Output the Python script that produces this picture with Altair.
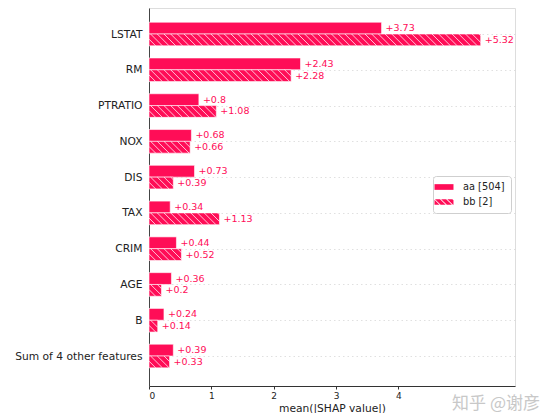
import altair as alt
import pandas as pd

features = ["LSTAT", "RM", "PTRATIO", "NOX", "DIS", "TAX", "CRIM", "AGE", "B",
            "Sum of 4 other features"]
aa_values = [3.73, 2.43, 0.8, 0.68, 0.73, 0.34, 0.44, 0.36, 0.24, 0.39]
bb_values = [5.32, 2.28, 1.08, 0.66, 0.39, 1.13, 0.52, 0.2, 0.14, 0.33]
group_names = ["aa", "bb"]
group_counts = [504, 2]
x_ticks = [0, 1, 2, 3, 4]

RED = "#ff0d57"
FONT = "DejaVu Sans"
X_MAX = 5.87
Y_DOMAIN = [-0.727, 9.838]
PLOT_W, PLOT_H = 366, 378
HALF = 0.33  # bar thickness in row units

labels = [f"{g} [{n}]" for g, n in zip(group_names, group_counts)]

rows = []
for i, f in enumerate(features):
    for gi, vals in enumerate([aa_values, bb_values]):
        v = vals[i]
        top = i - HALF if gi == 0 else i
        rows.append(dict(feature=f, idx=i, group=labels[gi], value=v,
                         top=top, bottom=top + HALF, mid=top + HALF / 2,
                         label="+" + f"{v:g}"))
bars = pd.DataFrame(rows)

# hatch lines on the second group's bars (style: 45 deg, ~6.7px apart)
px_x = PLOT_W / X_MAX
px_y = PLOT_H / (Y_DOMAIN[1] - Y_DOMAIN[0])
dx = HALF * px_y / px_x
step = 6.7 / px_x
hatch = []
for i, v in enumerate(bb_values):
    c = -dx
    while c < v:
        t0 = max(0.0, (0 - c) / dx)
        t1 = min(1.0, (v - c) / dx)
        if t1 > t0:
            hatch.append(dict(x1=c + t0 * dx, x2=c + t1 * dx,
                              y1=i + t0 * HALF, y2=i + t1 * HALF))
        c += step
hatch = pd.DataFrame(hatch)

# legend symbols: plain rectangle and a striped rectangle
def clip_x(poly, lo, hi):
    def clip(pts, keep, inter):
        out = []
        for k in range(len(pts)):
            p, q = pts[k], pts[(k + 1) % len(pts)]
            if keep(p):
                out.append(p)
            if keep(p) != keep(q):
                out.append(inter(p, q))
        return out
    def ix(xv):
        return lambda p, q: (xv, p[1] + (q[1] - p[1]) * (xv - p[0]) / (q[0] - p[0]))
    poly = clip(poly, lambda p: p[0] >= lo, ix(lo))
    if poly:
        poly = clip(poly, lambda p: p[0] <= hi, ix(hi))
    return poly

W, H = 2.0, 0.6
solid_path = f"M-{W},-{H}H{W}V{H}H-{W}Z"
parts = []
a = -W - 2 * H
sp, gap = 1.3, 0.24
while a < W:
    b = a + sp - gap
    poly = [(a, -H), (b, -H), (b + 2 * H, H), (a + 2 * H, H)]
    poly = clip_x(poly, -W, W)
    if len(poly) >= 3:
        parts.append("M" + "L".join(f"{x:.3f},{y:.3f}" for x, y in poly) + "Z")
    a += sp
striped_path = "".join(parts)

leg = pd.DataFrame(dict(group=labels, value=[aa_values[0], bb_values[0]], idx=[0, 0]))

xs = alt.Scale(domain=[0, X_MAX], nice=False, zero=False)
ys = alt.Scale(domain=Y_DOMAIN, reverse=True, nice=False, zero=False)
label_expr = "[" + ",".join("'" + f + "'" for f in features) + "][datum.value]"

x_axis = alt.Axis(values=x_ticks, title="mean(|SHAP value|)", grid=False,
                  tickSize=3, tickColor="#333", domainColor="#333",
                  labelFontSize=9, labelPadding=2, labelColor="#222",
                  titleFontSize=10.7, titleFontWeight="normal", titleColor="#222",
                  titlePadding=3, labelFont=FONT, titleFont=FONT, format="d")
y_axis = alt.Axis(values=list(range(len(features))), labelExpr=label_expr,
                  title=None, ticks=False, domainColor="#444",
                  labelFontSize=10.7, labelColor="#222", labelFont=FONT,
                  labelPadding=7, minExtent=141, maxExtent=141,
                  grid=True, gridColor="#d8d8d8", gridDash=[1.5, 3], gridWidth=0.8)

base = alt.Chart(bars)
bar_layer = base.mark_rect(color=RED, stroke="white", strokeWidth=0.6).encode(
    x=alt.X("value:Q", scale=xs, axis=x_axis),
    x2=alt.datum(0),
    y=alt.Y("top:Q", scale=ys, axis=y_axis),
    y2="bottom:Q",
)
hatch_layer = alt.Chart(hatch).mark_rule(color="white", strokeWidth=1, opacity=0.75).encode(
    x=alt.X("x1:Q", scale=xs), x2="x2:Q",
    y=alt.Y("y1:Q", scale=ys), y2="y2:Q",
)
text_layer = base.mark_text(align="left", baseline="middle", dx=4, fontSize=9.5,
                            font=FONT, color=RED).encode(
    x=alt.X("value:Q", scale=xs), y=alt.Y("mid:Q", scale=ys), text="label:N")

legend = alt.Legend(title=None, orient="none", legendX=284, legendY=168,
                    labelFontSize=9.8, labelFont=FONT, labelColor="#222",
                    symbolSize=90, symbolOpacity=1, symbolStrokeWidth=0,
                    fillColor="white", strokeColor="#cfcfcf", cornerRadius=3,
                    padding=6, rowPadding=5, labelOffset=14)
legend_layer = alt.Chart(leg).mark_point(filled=True, opacity=0).encode(
    x=alt.X("value:Q", scale=xs), y=alt.Y("idx:Q", scale=ys),
    color=alt.Color("group:N", scale=alt.Scale(domain=labels, range=[RED, RED]), legend=legend),
    shape=alt.Shape("group:N", scale=alt.Scale(domain=labels, range=[solid_path, striped_path]),
                    legend=legend),
)

chart = alt.layer(bar_layer, hatch_layer, text_layer, legend_layer).properties(
    width=PLOT_W, height=PLOT_H,
    padding={"left": 0, "top": 0, "right": 0, "bottom": 0},
    title=alt.TitleParams("知乎 @谢彦", orient="bottom", anchor="end", frame="group",
                          fontSize=17, color="#c8c8c8", fontWeight="normal",
                          font="Noto Sans CJK SC", offset=-17, dx=25),
).configure_view(stroke=None).configure(background="white")

chart.save("out.html", embed_options={"renderer": "svg", "actions": False})
